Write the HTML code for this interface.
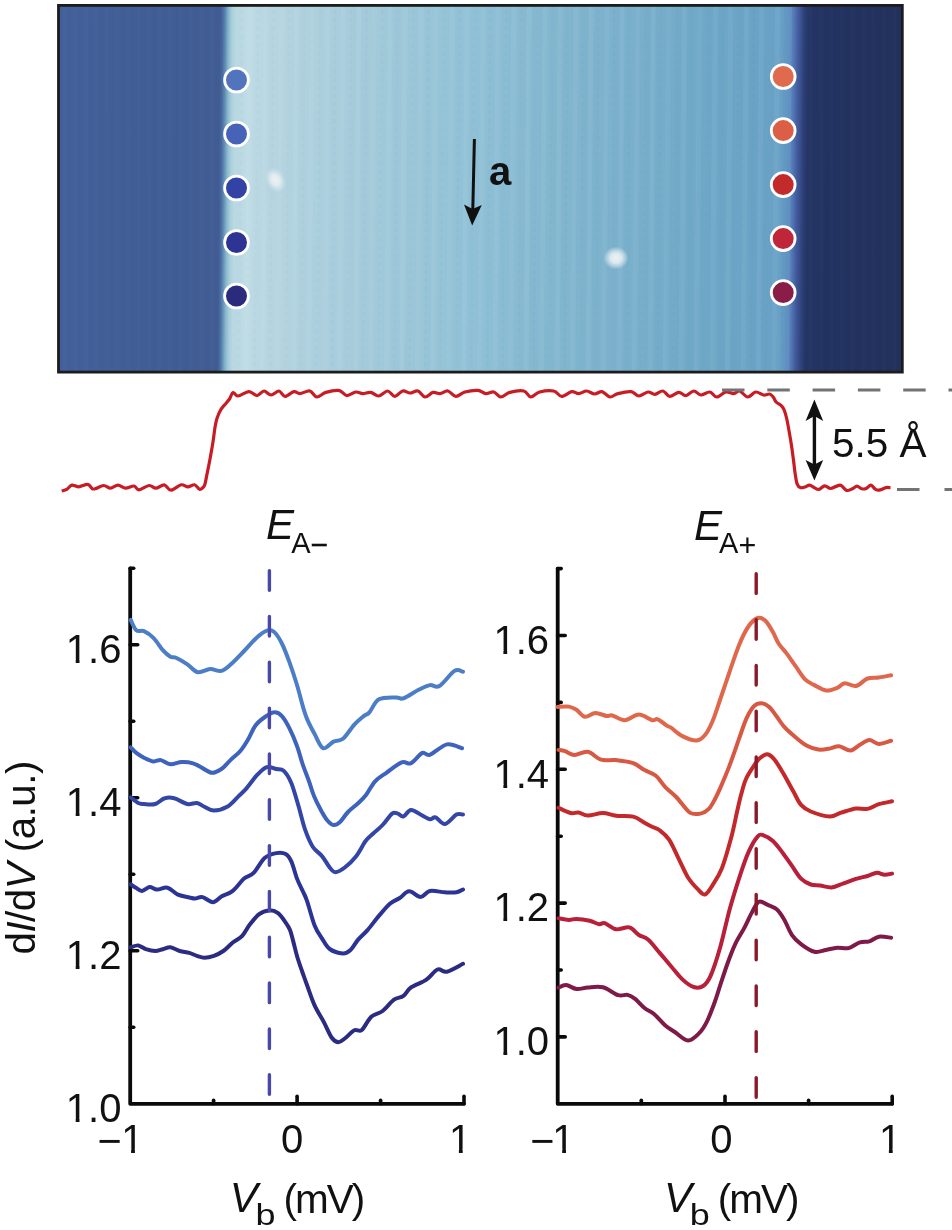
<!DOCTYPE html>
<html><head><meta charset="utf-8"><title>Figure</title>
<style>
html,body{margin:0;padding:0;background:#fff;}
svg{display:block;}
text{font-family:"Liberation Sans",Arial,sans-serif;fill:#111;}
</style></head><body>
<svg width="952" height="1230" viewBox="0 0 952 1230">
<defs>
<linearGradient id="stm" x1="57.0" y1="0" x2="904.0" y2="0" gradientUnits="userSpaceOnUse" gradientTransform="skewX(-0.55)">
<stop offset="0.0012" stop-color="#43609a"/>
<stop offset="0.0980" stop-color="#415d96"/>
<stop offset="0.1930" stop-color="#405c93"/>
<stop offset="0.1960" stop-color="#4869a1"/>
<stop offset="0.1989" stop-color="#5c89b1"/>
<stop offset="0.2025" stop-color="#85b5cc"/>
<stop offset="0.2060" stop-color="#a3cbd9"/>
<stop offset="0.2125" stop-color="#b7d7e1"/>
<stop offset="0.2255" stop-color="#bedce5"/>
<stop offset="0.2456" stop-color="#b7d6e1"/>
<stop offset="0.2869" stop-color="#afd1de"/>
<stop offset="0.3636" stop-color="#a3cada"/>
<stop offset="0.4935" stop-color="#8fc0d6"/>
<stop offset="0.5762" stop-color="#83b7cf"/>
<stop offset="0.6883" stop-color="#77aeca"/>
<stop offset="0.7769" stop-color="#6ca6c6"/>
<stop offset="0.8560" stop-color="#67a0c5"/>
<stop offset="0.8642" stop-color="#5f94c2"/>
<stop offset="0.8701" stop-color="#5479b6"/>
<stop offset="0.8760" stop-color="#41599c"/>
<stop offset="0.8819" stop-color="#2e417a"/>
<stop offset="0.8878" stop-color="#243565"/>
<stop offset="0.9126" stop-color="#223260"/>
<stop offset="0.9988" stop-color="#22315c"/>
</linearGradient>
<pattern id="stripes" x="0" y="0" width="15.5" height="8.4" patternUnits="userSpaceOnUse" patternTransform="skewX(-0.55)">
<rect x="0" y="0" width="5" height="8.4" fill="#ffffff" opacity="0.05"/><rect x="8.5" y="1" width="3" height="5" fill="#1a4a66" opacity="0.02"/>
</pattern>
<pattern id="stripesD" x="0" y="0" width="10.5" height="8" patternUnits="userSpaceOnUse">
<rect x="0" y="0" width="4" height="8" fill="#ffffff" opacity="0.012"/>
</pattern>
<radialGradient id="blob"><stop offset="0" stop-color="#eef2f5"/><stop offset="0.45" stop-color="#e4edf1" stop-opacity="0.92"/><stop offset="0.75" stop-color="#d8e6ee" stop-opacity="0.5"/><stop offset="1" stop-color="#d8e6ee" stop-opacity="0"/></radialGradient>
</defs>

<rect x="58.5" y="5.4" width="843.8" height="366.7" fill="url(#stm)"/>
<rect x="58.5" y="5.4" width="843.8" height="366.7" fill="url(#stripesD)"/>
<polygon points="228,5.2 792,5.2 789,371.8 225,371.8" fill="url(#stripes)"/>
<ellipse cx="275.5" cy="180" rx="13" ry="9.5" transform="rotate(62 275.5 180)" fill="url(#blob)"/>
<ellipse cx="616" cy="258" rx="12.5" ry="11.5" fill="url(#blob)"/>
<rect x="58.5" y="5.4" width="843.8" height="366.7" fill="none" stroke="#1c1c1c" stroke-width="2.8"/>
<circle cx="236.5" cy="80.0" r="11.9" fill="#5274bd" stroke="#fff" stroke-width="2.8"/>
<circle cx="783.2" cy="76.5" r="11.9" fill="#df6a4e" stroke="#fff" stroke-width="2.8"/>
<circle cx="236.5" cy="134.0" r="11.9" fill="#4663b8" stroke="#fff" stroke-width="2.8"/>
<circle cx="783.2" cy="130.6" r="11.9" fill="#dc5e46" stroke="#fff" stroke-width="2.8"/>
<circle cx="236.5" cy="188.0" r="11.9" fill="#3343a5" stroke="#fff" stroke-width="2.8"/>
<circle cx="783.2" cy="184.6" r="11.9" fill="#c32a2b" stroke="#fff" stroke-width="2.8"/>
<circle cx="236.5" cy="242.5" r="11.9" fill="#2e3494" stroke="#fff" stroke-width="2.8"/>
<circle cx="783.2" cy="238.6" r="11.9" fill="#c0263a" stroke="#fff" stroke-width="2.8"/>
<circle cx="236.5" cy="296.0" r="11.9" fill="#2b2b7e" stroke="#fff" stroke-width="2.8"/>
<circle cx="783.2" cy="292.6" r="11.9" fill="#8a1c48" stroke="#fff" stroke-width="2.8"/>
<path d="M474.4,139 L472.8,210" stroke="#111" stroke-width="3" fill="none"/>
<path d="M472.2,225.5 L464,204.5 L472.6,209 L481.8,205 Z" fill="#111"/>
<text x="489" y="185" font-size="40" font-weight="bold">a</text>
<path d="M61.7,491.0 C62.6,490.7 65.1,490.3 66.8,489.3 C68.5,488.3 69.8,485.5 71.8,485.1 C73.8,484.7 75.8,486.9 78.5,486.8 C81.2,486.7 85.5,484.0 87.8,484.3 C90.0,484.6 90.8,487.8 92.0,488.5 C93.2,489.2 93.3,489.3 95.3,488.8 C97.2,488.3 101.2,485.6 103.7,485.5 C106.2,485.4 108.1,488.3 110.5,488.2 C112.9,488.1 115.5,485.1 118.0,485.1 C120.5,485.1 122.9,488.1 125.6,488.2 C128.3,488.3 131.8,485.7 134.0,486.0 C136.2,486.3 136.5,489.9 139.0,489.8 C141.5,489.7 146.3,485.8 149.1,485.5 C151.9,485.2 153.3,488.3 155.8,488.2 C158.3,488.1 161.7,484.5 164.2,484.8 C166.7,485.1 168.2,490.2 171.0,490.2 C173.8,490.2 178.2,485.4 181.0,484.8 C183.8,484.2 185.6,486.8 187.8,486.8 C190.1,486.8 192.6,484.4 194.5,484.8 C196.4,485.2 198.1,488.9 199.5,489.3 C200.9,489.8 202.0,488.4 202.9,487.5 C203.8,486.6 204.3,486.5 205.0,484.0 C205.7,481.5 206.4,477.0 207.3,472.7 C208.2,468.4 209.2,463.4 210.2,458.0 C211.2,452.6 212.4,445.7 213.2,440.5 C214.0,435.3 214.4,430.6 215.1,426.8 C215.8,423.1 216.1,420.9 217.1,418.0 C218.1,415.1 219.5,411.7 221.0,409.3 C222.5,406.9 224.4,405.2 225.9,403.4 C227.4,401.6 228.6,400.3 229.8,398.5 C231.0,396.7 231.6,392.9 233.0,392.5 C234.4,392.1 235.3,396.1 238.0,396.0 C240.7,395.9 245.8,391.7 249.0,391.6 C252.2,391.5 254.5,395.7 257.0,395.6 C259.5,395.5 261.7,391.1 264.0,391.0 C266.3,390.9 268.5,395.0 271.0,395.0 C273.5,395.0 276.7,390.8 279.0,391.0 C281.3,391.2 282.5,396.3 285.0,396.4 C287.5,396.5 291.4,392.1 293.9,391.6 C296.4,391.1 297.2,393.7 299.9,393.6 C302.5,393.5 307.0,390.4 309.8,391.0 C312.6,391.6 314.1,396.8 316.8,397.0 C319.5,397.2 322.1,393.5 325.8,392.4 C329.5,391.3 335.3,389.9 338.8,390.4 C342.3,390.9 344.0,395.3 346.8,395.6 C349.6,395.9 353.1,392.3 355.7,392.0 C358.3,391.7 360.2,393.5 362.7,393.6 C365.2,393.7 368.0,392.0 370.7,392.4 C373.4,392.8 375.9,396.2 378.7,396.0 C381.5,395.8 385.0,390.9 387.7,391.0 C390.4,391.1 392.2,396.4 394.7,396.4 C397.2,396.4 400.1,391.6 402.7,391.0 C405.2,390.4 407.4,393.0 410.0,393.0 C412.6,393.0 415.5,390.3 418.0,391.0 C420.5,391.7 422.5,396.8 425.0,397.0 C427.5,397.2 430.5,393.0 433.0,392.4 C435.5,391.8 437.5,393.8 440.0,393.6 C442.5,393.4 445.2,390.5 447.9,391.0 C450.5,391.5 453.1,396.2 455.9,396.4 C458.7,396.6 461.2,393.0 464.9,392.0 C468.6,391.0 474.4,390.1 477.9,390.4 C481.4,390.7 483.1,393.3 485.8,393.6 C488.5,393.9 491.3,391.4 493.8,392.0 C496.3,392.6 498.1,396.9 500.8,397.0 C503.5,397.1 506.0,393.4 509.8,392.4 C513.6,391.4 520.3,390.2 523.8,391.0 C527.3,391.8 528.1,396.8 530.8,397.0 C533.4,397.2 535.9,393.0 539.7,392.0 C543.5,391.0 550.0,390.3 553.7,391.0 C557.4,391.7 558.7,396.3 561.7,396.4 C564.7,396.5 568.9,392.1 571.7,391.6 C574.5,391.1 576.2,393.7 578.7,393.6 C581.2,393.5 584.0,390.9 586.6,391.0 C589.2,391.1 592.0,393.9 594.6,394.0 C597.2,394.1 599.4,391.1 602.0,391.6 C604.6,392.1 607.4,396.7 610.0,397.0 C612.6,397.3 614.4,394.5 617.9,393.6 C621.4,392.7 627.4,391.2 630.9,391.6 C634.4,392.0 636.1,395.9 638.9,396.0 C641.7,396.1 645.2,392.3 647.9,392.0 C650.6,391.7 652.4,394.6 654.9,394.4 C657.4,394.2 660.4,390.7 662.9,391.0 C665.4,391.3 667.1,396.2 669.8,396.4 C672.4,396.6 676.1,392.5 678.8,392.4 C681.5,392.3 683.3,395.8 685.8,395.6 C688.3,395.4 691.3,391.1 693.8,391.0 C696.3,390.9 698.1,394.8 700.8,395.0 C703.5,395.2 707.1,391.7 709.8,392.0 C712.4,392.3 714.1,397.0 716.7,397.0 C719.4,397.0 722.9,392.6 725.7,392.0 C728.5,391.4 731.4,393.8 733.7,393.6 C736.0,393.4 737.4,390.4 739.7,391.0 C742.0,391.6 745.0,396.8 747.7,397.0 C750.4,397.2 753.1,392.3 755.7,392.0 C758.4,391.7 761.3,394.7 763.6,395.0 C765.9,395.3 768.0,393.7 769.6,394.0 C771.2,394.3 772.1,395.7 773.2,397.0 C774.3,398.3 774.8,400.6 776.1,402.0 C777.4,403.4 779.7,404.2 781.0,405.4 C782.3,406.6 782.9,407.0 783.9,409.3 C784.9,411.6 785.7,413.8 786.8,419.0 C787.9,424.2 789.6,434.0 790.7,440.5 C791.8,447.0 792.5,452.4 793.2,458.0 C794.0,463.6 794.5,469.6 795.2,474.0 C795.9,478.4 796.3,481.8 797.2,484.1 C798.1,486.4 799.1,487.1 800.4,487.6 C801.7,488.1 803.5,487.4 805.0,487.0 C806.5,486.6 808.1,485.1 809.6,485.2 C811.1,485.3 812.8,486.9 814.3,487.6 C815.8,488.3 817.2,489.6 818.9,489.3 C820.6,489.0 822.8,485.9 824.7,485.8 C826.6,485.7 828.5,488.4 830.4,488.5 C832.3,488.6 834.5,486.9 836.2,486.4 C837.9,485.8 839.1,484.5 840.8,485.2 C842.5,485.9 844.7,489.8 846.6,490.4 C848.5,491.0 850.7,489.4 852.4,488.7 C854.1,488.0 855.5,486.2 857.0,486.2 C858.5,486.2 860.1,488.3 861.6,488.7 C863.1,489.1 864.8,489.1 866.3,488.5 C867.8,487.9 869.4,485.1 870.9,485.2 C872.4,485.3 874.0,488.5 875.5,489.3 C877.0,490.1 878.4,490.2 880.1,489.9 C881.8,489.6 884.2,488.0 885.9,487.6 C887.6,487.2 889.7,487.6 890.5,487.6" stroke="#c71c24" stroke-width="3.2" fill="none" stroke-linejoin="round"/>
<line x1="722" y1="390" x2="952" y2="390" stroke="#737373" stroke-width="3" stroke-dasharray="22.5 22.8"/>
<line x1="897" y1="489.6" x2="952" y2="489.6" stroke="#737373" stroke-width="3" stroke-dasharray="22.5 25"/>
<path d="M814.4,415 L814.4,466" stroke="#111" stroke-width="3.4"/>
<path d="M814.4,399.6 L805.6,421 L814.4,416 L823.2,421 Z" fill="#111"/>
<path d="M814.4,480.4 L805.6,459.9 L814.4,464.5 L823.2,459.9 Z" fill="#111"/>
<text x="832" y="457" font-size="40.5">5.5 Å</text>
<path d="M130.2,568.3 L130.2,1103.8 L464.0,1103.8" stroke="#0a0a0a" stroke-width="3.8" fill="none" stroke-linejoin="round" stroke-linecap="round"/>
<line x1="130.2" y1="950.8" x2="137.7" y2="950.8" stroke="#0a0a0a" stroke-width="3.6" stroke-linecap="round"/>
<line x1="130.2" y1="797.8" x2="137.7" y2="797.8" stroke="#0a0a0a" stroke-width="3.6" stroke-linecap="round"/>
<line x1="130.2" y1="644.8" x2="137.7" y2="644.8" stroke="#0a0a0a" stroke-width="3.6" stroke-linecap="round"/>
<line x1="130.2" y1="1027.3" x2="133.7" y2="1027.3" stroke="#0a0a0a" stroke-width="3.6" stroke-linecap="round"/>
<line x1="130.2" y1="874.3" x2="133.7" y2="874.3" stroke="#0a0a0a" stroke-width="3.6" stroke-linecap="round"/>
<line x1="130.2" y1="721.3" x2="133.7" y2="721.3" stroke="#0a0a0a" stroke-width="3.6" stroke-linecap="round"/>
<line x1="130.2" y1="568.3" x2="133.7" y2="568.3" stroke="#0a0a0a" stroke-width="3.6" stroke-linecap="round"/>
<line x1="297.1" y1="1103.8" x2="297.1" y2="1096.3" stroke="#0a0a0a" stroke-width="3.6" stroke-linecap="round"/>
<line x1="464.0" y1="1103.8" x2="464.0" y2="1096.3" stroke="#0a0a0a" stroke-width="3.6" stroke-linecap="round"/>
<line x1="213.6" y1="1103.8" x2="213.6" y2="1100.3" stroke="#0a0a0a" stroke-width="3.6" stroke-linecap="round"/>
<line x1="380.6" y1="1103.8" x2="380.6" y2="1100.3" stroke="#0a0a0a" stroke-width="3.6" stroke-linecap="round"/>
<path d="M557.7,568.6 L557.7,1103.8 L892.2,1103.8" stroke="#0a0a0a" stroke-width="3.8" fill="none" stroke-linejoin="round" stroke-linecap="round"/>
<line x1="557.7" y1="1036.9" x2="565.2" y2="1036.9" stroke="#0a0a0a" stroke-width="3.6" stroke-linecap="round"/>
<line x1="557.7" y1="903.1" x2="565.2" y2="903.1" stroke="#0a0a0a" stroke-width="3.6" stroke-linecap="round"/>
<line x1="557.7" y1="769.3" x2="565.2" y2="769.3" stroke="#0a0a0a" stroke-width="3.6" stroke-linecap="round"/>
<line x1="557.7" y1="635.5" x2="565.2" y2="635.5" stroke="#0a0a0a" stroke-width="3.6" stroke-linecap="round"/>
<line x1="557.7" y1="970.0" x2="561.2" y2="970.0" stroke="#0a0a0a" stroke-width="3.6" stroke-linecap="round"/>
<line x1="557.7" y1="836.2" x2="561.2" y2="836.2" stroke="#0a0a0a" stroke-width="3.6" stroke-linecap="round"/>
<line x1="557.7" y1="702.4" x2="561.2" y2="702.4" stroke="#0a0a0a" stroke-width="3.6" stroke-linecap="round"/>
<line x1="557.7" y1="568.6" x2="561.2" y2="568.6" stroke="#0a0a0a" stroke-width="3.6" stroke-linecap="round"/>
<line x1="725.0" y1="1103.8" x2="725.0" y2="1096.3" stroke="#0a0a0a" stroke-width="3.6" stroke-linecap="round"/>
<line x1="892.2" y1="1103.8" x2="892.2" y2="1096.3" stroke="#0a0a0a" stroke-width="3.6" stroke-linecap="round"/>
<line x1="641.3" y1="1103.8" x2="641.3" y2="1100.3" stroke="#0a0a0a" stroke-width="3.6" stroke-linecap="round"/>
<line x1="808.6" y1="1103.8" x2="808.6" y2="1100.3" stroke="#0a0a0a" stroke-width="3.6" stroke-linecap="round"/>
<path d="M130.7,619.9 C131.6,621.6 134.1,628.4 136.3,630.3 C138.5,632.2 141.1,630.0 143.9,631.2 C146.8,632.5 150.2,634.6 153.4,637.8 C156.6,640.9 160.0,647.0 162.8,650.1 C165.6,653.2 168.2,655.4 170.4,656.7 C172.6,658.0 173.2,656.4 176.0,657.7 C178.8,659.0 183.8,661.9 187.4,664.3 C191.0,666.7 194.0,671.4 197.8,672.2 C201.6,673.0 206.2,669.2 210.1,669.0 C214.0,668.8 217.9,671.7 221.4,670.9 C224.9,670.1 227.1,667.6 230.9,664.3 C234.7,661.0 239.7,655.6 244.1,651.0 C248.5,646.4 253.5,640.4 257.4,636.9 C261.3,633.4 264.9,631.1 267.7,630.3 C270.5,629.5 272.0,629.9 274.4,632.1 C276.8,634.3 279.4,638.5 281.9,643.5 C284.4,648.5 287.0,655.5 289.5,662.4 C292.0,669.3 294.8,677.8 297.0,685.0 C299.2,692.2 301.0,700.2 302.7,705.9 C304.4,711.5 305.0,714.2 307.0,718.9 C309.0,723.6 311.9,729.1 314.6,734.0 C317.3,738.9 320.0,746.9 323.1,748.2 C326.2,749.5 330.2,743.2 333.5,741.6 C336.8,740.0 339.4,741.6 342.9,738.8 C346.4,736.0 350.8,728.4 354.3,724.6 C357.8,720.8 361.2,718.2 363.7,716.1 C366.2,714.0 366.9,715.1 369.4,712.3 C371.9,709.5 374.5,701.8 378.9,699.3 C383.3,696.8 391.8,697.6 395.9,697.4 C400.0,697.2 399.6,699.6 403.4,698.3 C407.2,697.0 414.2,692.0 418.6,689.8 C423.0,687.6 426.4,685.7 429.9,685.1 C433.4,684.5 435.3,688.4 439.4,686.0 C443.5,683.6 450.6,673.3 454.5,670.9 C458.4,668.5 461.6,671.6 463.0,671.8" stroke="#4c7ec8" stroke-width="4" fill="none" stroke-linejoin="round" stroke-linecap="round"/>
<path d="M130.7,747.3 C131.6,748.2 134.1,751.2 136.3,752.9 C138.5,754.6 141.1,756.3 143.9,757.7 C146.8,759.1 150.6,761.0 153.4,761.4 C156.2,761.8 158.1,759.6 160.9,760.1 C163.7,760.6 166.9,764.0 170.4,764.3 C173.9,764.6 177.9,762.2 181.7,762.0 C185.5,761.8 189.6,762.3 193.1,763.3 C196.6,764.3 199.3,766.5 202.5,768.1 C205.7,769.7 208.8,772.6 212.0,772.8 C215.2,772.9 218.2,771.2 221.4,769.0 C224.6,766.8 227.8,762.6 230.9,759.6 C234.1,756.6 237.5,754.3 240.3,751.0 C243.1,747.7 245.4,744.0 247.9,739.7 C250.4,735.5 252.7,729.3 255.5,725.5 C258.3,721.7 261.8,719.2 264.9,717.0 C268.0,714.8 271.6,712.4 274.4,712.3 C277.2,712.1 279.4,713.4 281.9,716.1 C284.4,718.8 287.0,723.4 289.5,728.4 C292.0,733.4 294.8,740.0 297.0,746.0 C299.2,752.0 300.7,758.5 302.7,764.3 C304.7,770.1 307.0,775.7 308.9,781.0 C310.8,786.3 312.1,791.3 314.0,796.0 C315.9,800.7 318.1,805.0 320.3,809.0 C322.5,813.0 324.8,817.3 327.0,820.0 C329.2,822.7 331.3,824.7 333.5,825.0 C335.7,825.3 337.6,824.2 340.0,822.0 C342.4,819.8 345.0,815.1 348.0,812.0 C351.0,808.9 355.1,806.0 358.1,803.2 C361.1,800.4 363.2,798.6 366.0,795.0 C368.8,791.4 371.7,785.0 375.1,781.3 C378.5,777.6 382.0,775.9 386.4,772.8 C390.8,769.6 397.5,764.0 401.6,762.4 C405.7,760.8 407.6,764.9 411.0,763.3 C414.4,761.7 419.2,754.3 422.3,752.9 C425.4,751.5 425.8,756.2 429.9,754.8 C434.0,753.4 441.5,745.5 446.9,744.4 C452.2,743.3 459.5,747.6 462.0,748.2" stroke="#3e63bd" stroke-width="4" fill="none" stroke-linejoin="round" stroke-linecap="round"/>
<path d="M130.7,797.4 C131.9,798.3 136.0,801.9 138.2,803.0 C140.4,804.1 141.1,803.8 143.9,804.0 C146.8,804.2 151.8,805.0 155.3,804.0 C158.8,803.0 161.5,799.2 164.7,798.3 C167.8,797.3 170.4,797.3 174.2,798.3 C178.0,799.2 183.6,803.2 187.4,804.0 C191.2,804.8 194.0,802.5 196.8,803.0 C199.6,803.5 201.6,805.5 204.4,806.8 C207.2,808.1 210.1,810.6 213.9,810.6 C217.7,810.6 223.0,809.2 227.1,806.8 C231.2,804.4 235.2,799.4 238.4,796.4 C241.6,793.4 242.8,792.5 246.0,788.9 C249.2,785.3 253.9,778.3 257.4,774.7 C260.9,771.1 263.6,768.1 266.8,767.1 C270.0,766.1 273.5,768.4 276.3,769.0 C279.1,769.6 281.3,768.5 283.8,770.9 C286.3,773.3 288.9,777.4 291.4,783.2 C293.8,789.1 296.2,798.2 298.5,806.0 C300.8,813.8 302.7,822.9 305.1,829.7 C307.5,836.5 309.9,842.3 312.7,846.7 C315.5,851.1 319.3,852.7 322.1,856.2 C324.9,859.7 327.5,864.8 329.7,867.5 C331.9,870.2 332.9,872.2 335.4,872.2 C337.9,872.2 341.3,870.2 344.8,867.5 C348.3,864.8 352.7,860.6 356.2,856.2 C359.7,851.8 362.8,844.8 365.6,841.0 C368.4,837.2 370.4,836.2 373.2,833.5 C376.0,830.8 379.5,828.3 382.6,825.0 C385.8,821.7 389.6,815.5 392.1,813.6 C394.6,811.7 395.9,813.1 397.8,813.6 C399.7,814.1 401.2,817.1 403.4,816.5 C405.6,815.9 407.9,810.1 411.0,809.9 C414.1,809.7 419.2,813.9 422.3,815.5 C425.4,817.1 427.7,819.0 429.9,819.3 C432.1,819.6 433.1,816.6 435.6,817.4 C438.1,818.2 441.5,824.5 445.0,824.0 C448.5,823.5 453.4,816.2 456.4,814.6 C459.4,813.0 461.9,814.6 463.0,814.6" stroke="#3346a6" stroke-width="4" fill="none" stroke-linejoin="round" stroke-linecap="round"/>
<path d="M130.7,884.3 C131.6,884.9 134.4,887.0 136.3,888.1 C138.2,889.2 139.8,891.1 142.0,890.9 C144.2,890.7 147.1,887.3 149.6,887.1 C152.1,886.9 154.1,889.5 157.1,889.6 C160.1,889.7 164.0,886.9 167.5,887.7 C171.0,888.6 174.3,893.1 177.9,894.7 C181.5,896.3 186.5,896.9 189.3,897.5 C192.2,898.1 192.8,898.6 195.0,898.5 C197.2,898.4 199.5,896.5 202.5,897.1 C205.5,897.7 209.8,902.3 212.9,902.2 C216.1,902.1 218.1,898.5 221.4,896.6 C224.7,894.7 229.0,893.9 232.8,890.9 C236.6,887.9 240.6,881.6 244.1,878.6 C247.6,875.6 250.1,876.4 253.6,872.9 C257.1,869.4 261.1,861.1 264.9,857.8 C268.7,854.5 272.8,853.7 276.3,853.1 C279.8,852.5 283.2,852.6 285.7,854.0 C288.2,855.4 289.5,857.5 291.4,861.6 C293.3,865.7 295.1,873.7 297.0,878.6 C298.9,883.5 301.0,887.3 302.7,891.0 C304.4,894.7 305.0,895.1 307.0,900.8 C309.0,906.5 312.1,919.1 314.6,925.4 C317.1,931.7 319.6,934.7 322.1,938.6 C324.6,942.5 326.2,946.5 329.7,949.0 C333.2,951.5 339.4,953.2 342.9,953.4 C346.4,953.6 348.0,952.3 350.5,950.0 C353.0,947.7 355.3,942.9 358.1,939.6 C360.9,936.3 364.0,934.1 367.5,930.1 C371.0,926.1 375.1,920.3 378.9,915.9 C382.7,911.5 386.7,906.6 390.2,903.6 C393.7,900.6 396.5,900.0 399.7,898.0 C402.9,896.0 405.6,891.5 409.1,891.3 C412.6,891.1 417.0,897.0 420.5,897.0 C424.0,897.0 425.8,891.8 429.9,891.0 C434.0,890.2 440.6,892.1 445.0,892.3 C449.4,892.5 453.4,892.8 456.4,892.3 C459.4,891.8 461.9,890.0 463.0,889.5" stroke="#2b3495" stroke-width="4" fill="none" stroke-linejoin="round" stroke-linecap="round"/>
<path d="M130.7,947.3 C131.9,947.0 135.7,945.1 138.2,945.4 C140.7,945.7 143.0,948.3 145.8,949.2 C148.7,950.1 152.5,951.0 155.3,951.0 C158.1,951.0 160.3,949.8 162.8,949.2 C165.3,948.6 167.6,947.0 170.4,947.3 C173.2,947.6 176.7,950.1 179.8,951.0 C183.0,951.9 186.5,952.1 189.3,952.9 C192.1,953.7 194.3,955.0 196.8,955.8 C199.3,956.6 201.6,957.7 204.4,957.7 C207.2,957.7 210.8,956.9 213.9,955.8 C217.1,954.7 220.2,953.2 223.3,951.0 C226.5,948.8 229.7,945.0 232.8,942.5 C236.0,940.0 239.4,938.9 242.2,935.9 C245.0,932.9 247.0,928.2 249.8,924.6 C252.6,921.0 256.1,916.6 259.2,914.2 C262.3,911.8 265.5,910.6 268.7,910.4 C271.9,910.2 275.3,911.2 278.1,913.2 C280.9,915.2 283.7,919.9 285.7,922.7 C287.7,925.5 288.7,926.9 290.0,930.0 C291.3,933.1 292.0,936.9 293.3,941.6 C294.6,946.3 296.0,952.8 297.6,958.0 C299.2,963.2 301.1,968.5 302.7,973.0 C304.3,977.5 305.0,979.6 307.0,985.0 C309.0,990.4 311.8,999.2 314.6,1005.4 C317.4,1011.6 321.2,1017.0 324.0,1022.4 C326.8,1027.8 329.2,1034.2 331.6,1037.5 C334.0,1040.8 336.0,1042.0 338.2,1042.2 C340.4,1042.4 342.1,1040.5 344.8,1038.5 C347.5,1036.5 351.5,1031.7 354.3,1030.3 C357.1,1028.9 359.0,1032.3 361.8,1030.0 C364.6,1027.7 367.8,1019.9 371.3,1016.7 C374.8,1013.5 378.8,1013.8 382.6,1011.0 C386.4,1008.2 390.5,1002.2 394.0,999.7 C397.5,997.2 400.6,998.0 403.4,995.9 C406.2,993.8 407.2,990.1 411.0,987.4 C414.8,984.7 421.7,982.9 426.1,979.9 C430.5,976.9 434.0,970.9 437.5,969.5 C441.0,968.1 442.6,972.7 446.9,971.7 C451.1,970.8 460.3,965.1 463.0,963.8" stroke="#2b2b82" stroke-width="4" fill="none" stroke-linejoin="round" stroke-linecap="round"/>
<path d="M557.6,707.0 C559.5,706.9 565.8,706.1 568.9,706.6 C572.0,707.1 573.8,708.1 576.5,709.8 C579.2,711.5 581.9,716.3 585.0,716.8 C588.1,717.3 591.8,713.1 595.4,713.0 C599.0,712.9 603.9,715.6 606.7,716.0 C609.5,716.4 609.4,714.8 612.4,715.5 C615.4,716.2 620.3,720.4 624.7,720.2 C629.1,720.0 634.3,714.5 638.9,714.5 C643.5,714.5 649.0,719.4 652.1,720.2 C655.2,721.0 655.3,718.3 657.8,719.3 C660.3,720.2 665.0,724.5 667.2,725.9 C669.4,727.3 668.5,725.9 671.0,727.6 C673.5,729.3 678.1,734.0 682.4,736.1 C686.6,738.2 692.7,740.7 696.5,740.5 C700.3,740.3 702.3,738.4 705.0,735.1 C707.7,731.9 710.1,726.9 712.6,721.0 C715.1,715.1 717.2,708.2 720.0,700.0 C722.8,691.8 726.4,681.1 729.5,672.0 C732.6,662.9 735.8,653.0 738.9,645.4 C742.0,637.8 745.2,631.1 748.4,626.5 C751.5,621.9 755.0,619.0 757.8,618.0 C760.6,617.0 762.9,618.4 765.4,620.8 C767.9,623.1 770.7,628.3 772.9,632.1 C775.1,635.9 776.4,640.0 778.6,643.5 C780.8,647.0 783.4,649.1 786.2,652.9 C789.0,656.7 792.5,661.8 795.6,666.2 C798.8,670.6 802.0,676.2 805.1,679.4 C808.2,682.5 811.0,683.3 814.5,685.1 C818.0,686.9 822.1,689.9 825.9,690.4 C829.7,690.9 834.1,689.1 837.2,687.9 C840.4,686.7 841.6,683.5 844.8,683.2 C847.9,682.9 852.3,686.8 856.1,686.0 C859.9,685.2 863.7,679.9 867.5,678.5 C871.3,677.1 874.9,678.0 878.8,677.5 C882.7,677.0 889.0,675.6 891.1,675.2" stroke="#df684c" stroke-width="4" fill="none" stroke-linejoin="round" stroke-linecap="round"/>
<path d="M558.5,749.9 C559.6,750.1 562.4,750.4 565.1,751.2 C567.8,752.1 570.8,754.9 574.6,755.0 C578.4,755.1 583.4,751.0 587.8,751.8 C592.2,752.6 596.3,758.3 601.0,759.7 C605.7,761.1 610.8,759.5 616.2,760.1 C621.6,760.7 628.5,761.4 633.2,763.1 C637.9,764.8 640.7,768.0 644.5,770.1 C648.3,772.2 652.4,773.0 655.9,775.8 C659.4,778.6 661.8,783.5 665.3,787.1 C668.8,790.7 672.6,793.2 676.7,797.5 C680.8,801.8 685.8,810.0 689.9,812.6 C694.0,815.2 698.1,814.0 701.3,813.4 C704.4,812.8 706.6,811.1 708.8,808.9 C711.0,806.7 712.6,803.5 714.5,800.0 C716.4,796.5 717.7,793.8 720.2,788.1 C722.7,782.4 726.4,773.8 729.5,765.6 C732.6,757.5 736.1,747.1 738.9,739.2 C741.7,731.3 744.0,723.9 746.5,718.4 C749.0,712.9 751.5,708.6 754.0,706.1 C756.5,703.6 759.1,703.1 761.6,703.2 C764.1,703.4 766.7,704.8 769.2,707.0 C771.7,709.2 774.2,713.2 776.7,716.5 C779.2,719.8 781.1,723.4 784.3,726.9 C787.4,730.4 791.8,734.1 795.6,737.3 C799.4,740.4 803.2,743.8 807.0,745.8 C810.8,747.8 814.5,749.1 818.3,749.6 C822.1,750.1 826.2,749.2 829.7,748.6 C833.2,748.0 835.6,746.0 839.1,746.3 C842.6,746.6 847.0,750.8 850.5,750.5 C854.0,750.2 856.8,746.5 859.9,744.8 C863.0,743.1 866.2,740.2 869.4,740.1 C872.5,740.0 875.2,743.8 878.8,743.9 C882.4,744.0 889.0,741.2 891.1,740.7" stroke="#d85943" stroke-width="4" fill="none" stroke-linejoin="round" stroke-linecap="round"/>
<path d="M558.5,807.8 C560.5,808.7 567.5,812.2 570.8,813.0 C574.1,813.8 575.6,812.1 578.4,812.5 C581.2,812.9 583.7,815.4 587.8,815.5 C591.9,815.6 598.2,813.1 602.9,813.1 C607.6,813.1 611.2,815.2 616.2,815.8 C621.2,816.4 628.5,815.5 633.2,816.6 C637.9,817.8 641.4,821.0 644.5,822.7 C647.6,824.4 649.6,825.5 652.1,826.8 C654.6,828.1 656.9,828.1 659.7,830.3 C662.5,832.4 666.0,835.0 669.1,839.7 C672.2,844.4 675.5,852.3 678.6,858.6 C681.8,864.9 684.9,872.5 688.0,877.5 C691.1,882.5 694.7,886.1 697.5,888.9 C700.3,891.7 702.5,895.1 705.0,894.5 C707.5,893.9 709.8,889.5 712.6,885.1 C715.4,880.7 718.9,876.0 722.0,868.0 C725.1,860.0 728.8,846.6 731.3,837.3 C733.8,828.0 735.4,819.0 737.0,812.0 C738.6,805.0 739.5,800.5 741.0,795.0 C742.5,789.5 743.8,783.9 746.0,779.0 C748.2,774.1 751.7,769.1 754.0,765.6 C756.3,762.1 757.8,759.9 760.0,758.0 C762.2,756.1 764.8,754.0 767.3,754.3 C769.8,754.6 772.0,756.5 774.8,760.0 C777.6,763.5 781.1,769.8 784.3,775.1 C787.4,780.5 790.9,787.1 793.7,792.1 C796.5,797.1 798.4,802.0 801.3,805.2 C804.1,808.4 806.1,809.6 810.8,811.5 C815.5,813.4 824.7,816.3 829.7,816.5 C834.7,816.7 836.6,814.0 841.0,812.7 C845.4,811.4 851.7,809.1 856.1,808.5 C860.5,807.9 863.7,809.6 867.5,808.9 C871.3,808.2 874.7,805.5 878.8,804.2 C882.9,802.9 889.8,801.8 892.0,801.3" stroke="#c3292b" stroke-width="4" fill="none" stroke-linejoin="round" stroke-linecap="round"/>
<path d="M558.5,918.3 C560.2,918.6 565.9,919.8 568.9,919.9 C571.9,920.0 573.0,918.8 576.5,918.9 C580.0,919.0 585.9,919.9 589.7,920.8 C593.5,921.7 596.7,923.8 599.2,924.2 C601.7,924.6 602.0,922.2 604.8,923.1 C607.6,924.0 612.1,928.6 616.2,929.3 C620.3,930.0 625.6,926.4 629.4,927.4 C633.2,928.4 635.8,933.0 638.9,935.0 C642.0,937.0 644.8,936.7 648.3,939.7 C651.8,942.7 655.9,948.5 659.7,952.9 C663.5,957.3 667.2,961.8 671.0,966.2 C674.8,970.6 678.6,975.9 682.4,979.4 C686.2,982.9 690.2,985.9 693.7,987.0 C697.2,988.1 700.3,987.9 703.1,986.0 C705.9,984.1 707.9,982.1 710.7,975.6 C713.6,969.1 717.1,958.2 720.2,947.3 C723.3,936.4 726.4,921.4 729.5,910.0 C732.6,898.6 735.8,888.5 738.9,878.9 C742.0,869.3 745.2,859.5 748.4,852.4 C751.5,845.3 755.3,839.1 757.8,836.3 C760.3,833.5 761.0,834.6 763.5,835.4 C766.0,836.2 769.8,838.2 772.9,841.0 C776.0,843.8 779.2,848.3 782.4,852.4 C785.5,856.5 788.6,861.2 791.8,865.6 C794.9,870.0 798.1,875.8 801.3,878.9 C804.5,882.0 807.6,883.4 810.8,884.5 C813.9,885.6 816.7,885.0 820.2,885.5 C823.7,886.0 827.8,887.7 831.6,887.4 C835.4,887.1 838.8,885.0 842.9,883.6 C847.0,882.2 852.0,880.2 856.1,878.9 C860.2,877.6 864.0,877.0 867.5,876.0 C871.0,875.0 874.1,873.0 876.9,872.8 C879.7,872.6 882.0,874.6 884.5,874.7 C887.0,874.8 890.8,873.8 892.0,873.6" stroke="#b81f39" stroke-width="4" fill="none" stroke-linejoin="round" stroke-linecap="round"/>
<path d="M558.5,987.7 C559.8,987.2 563.1,984.8 566.1,985.0 C569.1,985.2 572.9,988.6 576.5,989.0 C580.1,989.4 583.4,987.8 587.8,987.5 C592.2,987.2 597.8,986.0 602.9,987.3 C608.0,988.6 614.0,993.8 618.1,995.1 C622.2,996.4 624.7,994.3 627.5,994.9 C630.3,995.5 632.3,996.7 635.1,998.9 C637.9,1001.1 641.4,1005.5 644.5,1008.0 C647.6,1010.5 650.5,1011.1 654.0,1014.0 C657.5,1016.9 661.8,1022.4 665.3,1025.4 C668.8,1028.4 671.0,1029.5 674.8,1032.0 C678.6,1034.5 683.9,1040.3 688.0,1040.5 C692.1,1040.7 696.2,1036.1 699.4,1032.9 C702.5,1029.8 704.4,1026.6 706.9,1021.6 C709.4,1016.6 712.3,1008.7 714.5,1002.7 C716.7,996.8 717.8,992.5 720.0,985.9 C722.2,979.3 725.1,970.1 727.6,963.2 C730.1,956.3 732.3,950.3 735.1,944.3 C737.9,938.3 741.8,932.7 744.6,927.3 C747.4,921.9 749.7,916.4 752.1,912.1 C754.5,907.8 756.3,903.0 758.8,901.7 C761.3,900.5 764.3,903.3 767.3,904.6 C770.3,905.9 773.9,906.8 776.7,909.3 C779.5,911.8 781.8,915.5 784.3,919.7 C786.8,924.0 789.0,930.7 791.8,934.8 C794.6,938.9 797.5,941.5 801.3,944.3 C805.1,947.1 810.4,950.8 814.5,951.8 C818.6,952.8 822.1,950.7 825.9,950.0 C829.7,949.3 833.4,948.0 837.2,947.7 C841.0,947.4 844.8,949.0 848.6,948.1 C852.4,947.2 856.4,943.5 859.9,942.4 C863.4,941.3 866.2,942.3 869.4,941.4 C872.5,940.5 875.2,937.3 878.8,936.7 C882.4,936.1 889.0,937.5 891.1,937.7" stroke="#7e1a48" stroke-width="4" fill="none" stroke-linejoin="round" stroke-linecap="round"/>
<line x1="269.4" y1="570.6" x2="269.4" y2="1103" stroke="#4848a8" stroke-width="3.4" stroke-linecap="round" stroke-dasharray="19.6 26.23"/>
<line x1="756.2" y1="573.8" x2="756.2" y2="1103" stroke="#8a1a2a" stroke-width="3.4" stroke-linecap="round" stroke-dasharray="19.6 26.2"/>
<text x="65.8" y="1122.1" font-size="40">1.0</text>
<text x="493.5" y="1055.2" font-size="40">1.0</text>
<text x="65.8" y="969.1" font-size="40">1.2</text>
<text x="493.5" y="921.4" font-size="40">1.2</text>
<text x="65.8" y="816.1" font-size="40">1.4</text>
<text x="493.5" y="787.6" font-size="40">1.4</text>
<text x="65.8" y="663.1" font-size="40">1.6</text>
<text x="493.5" y="653.8" font-size="40">1.6</text>
<text x="97.5" y="1154.8" font-size="41.5">−</text><text x="121.2" y="1152.5" font-size="40">1</text>
<text x="280.9" y="1152.5" font-size="40">0</text>
<text x="449" y="1152.5" font-size="40">1</text>
<text x="530.2" y="1154.8" font-size="41.5">−</text><text x="552.3" y="1152.5" font-size="40">1</text>
<text x="710.3" y="1152.5" font-size="40">0</text>
<text x="879" y="1152.5" font-size="40">1</text>
<rect x="67.4" y="1118.7" width="8.3" height="4.0" fill="#fff"/><rect x="79.5" y="1118.7" width="8.2" height="4.0" fill="#fff"/>
<rect x="495.1" y="1051.8" width="8.3" height="4.0" fill="#fff"/><rect x="507.2" y="1051.8" width="8.2" height="4.0" fill="#fff"/>
<rect x="67.4" y="965.7" width="8.3" height="4.0" fill="#fff"/><rect x="79.5" y="965.7" width="8.2" height="4.0" fill="#fff"/>
<rect x="495.1" y="918.0" width="8.3" height="4.0" fill="#fff"/><rect x="507.2" y="918.0" width="8.2" height="4.0" fill="#fff"/>
<rect x="67.4" y="812.7" width="8.3" height="4.0" fill="#fff"/><rect x="79.5" y="812.7" width="8.2" height="4.0" fill="#fff"/>
<rect x="495.1" y="784.2" width="8.3" height="4.0" fill="#fff"/><rect x="507.2" y="784.2" width="8.2" height="4.0" fill="#fff"/>
<rect x="67.4" y="659.7" width="8.3" height="4.0" fill="#fff"/><rect x="79.5" y="659.7" width="8.2" height="4.0" fill="#fff"/>
<rect x="495.1" y="650.4" width="8.3" height="4.0" fill="#fff"/><rect x="507.2" y="650.4" width="8.2" height="4.0" fill="#fff"/>
<rect x="122.8" y="1149.1" width="8.3" height="4.0" fill="#fff"/><rect x="134.9" y="1149.1" width="8.2" height="4.0" fill="#fff"/>
<rect x="450.6" y="1149.1" width="8.3" height="4.0" fill="#fff"/><rect x="462.7" y="1149.1" width="8.2" height="4.0" fill="#fff"/>
<rect x="553.9" y="1149.1" width="8.3" height="4.0" fill="#fff"/><rect x="566.0" y="1149.1" width="8.2" height="4.0" fill="#fff"/>
<rect x="880.6" y="1149.1" width="8.3" height="4.0" fill="#fff"/><rect x="892.7" y="1149.1" width="8.2" height="4.0" fill="#fff"/>
<text x="229.8" y="1212.3" font-size="42" font-style="italic">V</text>
<text transform="translate(255.6,1224.8) scale(1.22,1)" font-size="29.5">b</text>
<text x="283.6" y="1212.5" font-size="40.5" letter-spacing="-2.0">(mV)</text>
<text x="664.0" y="1212.3" font-size="42" font-style="italic">V</text>
<text transform="translate(689.8,1224.8) scale(1.22,1)" font-size="29.5">b</text>
<text x="717.8" y="1212.5" font-size="40.5" letter-spacing="-2.0">(mV)</text>
<text x="266" y="539" font-size="42" font-style="italic">E</text><text x="291.2" y="552.7" font-size="29">A<tspan dy="2.2" font-size="30" stroke="#111" stroke-width="0.5">−</tspan></text>
<text x="694" y="540.4" font-size="42" font-style="italic">E</text><text x="719.1" y="553.2" font-size="29">A<tspan dy="2.6" font-size="30.5">+</tspan></text>
<text transform="translate(35.0,954.5) rotate(-90)" font-size="40.2" letter-spacing="-0.45">d<tspan font-style="italic">I</tspan>/d<tspan font-style="italic">V</tspan> (a.u.)</text>
</svg></body></html>
